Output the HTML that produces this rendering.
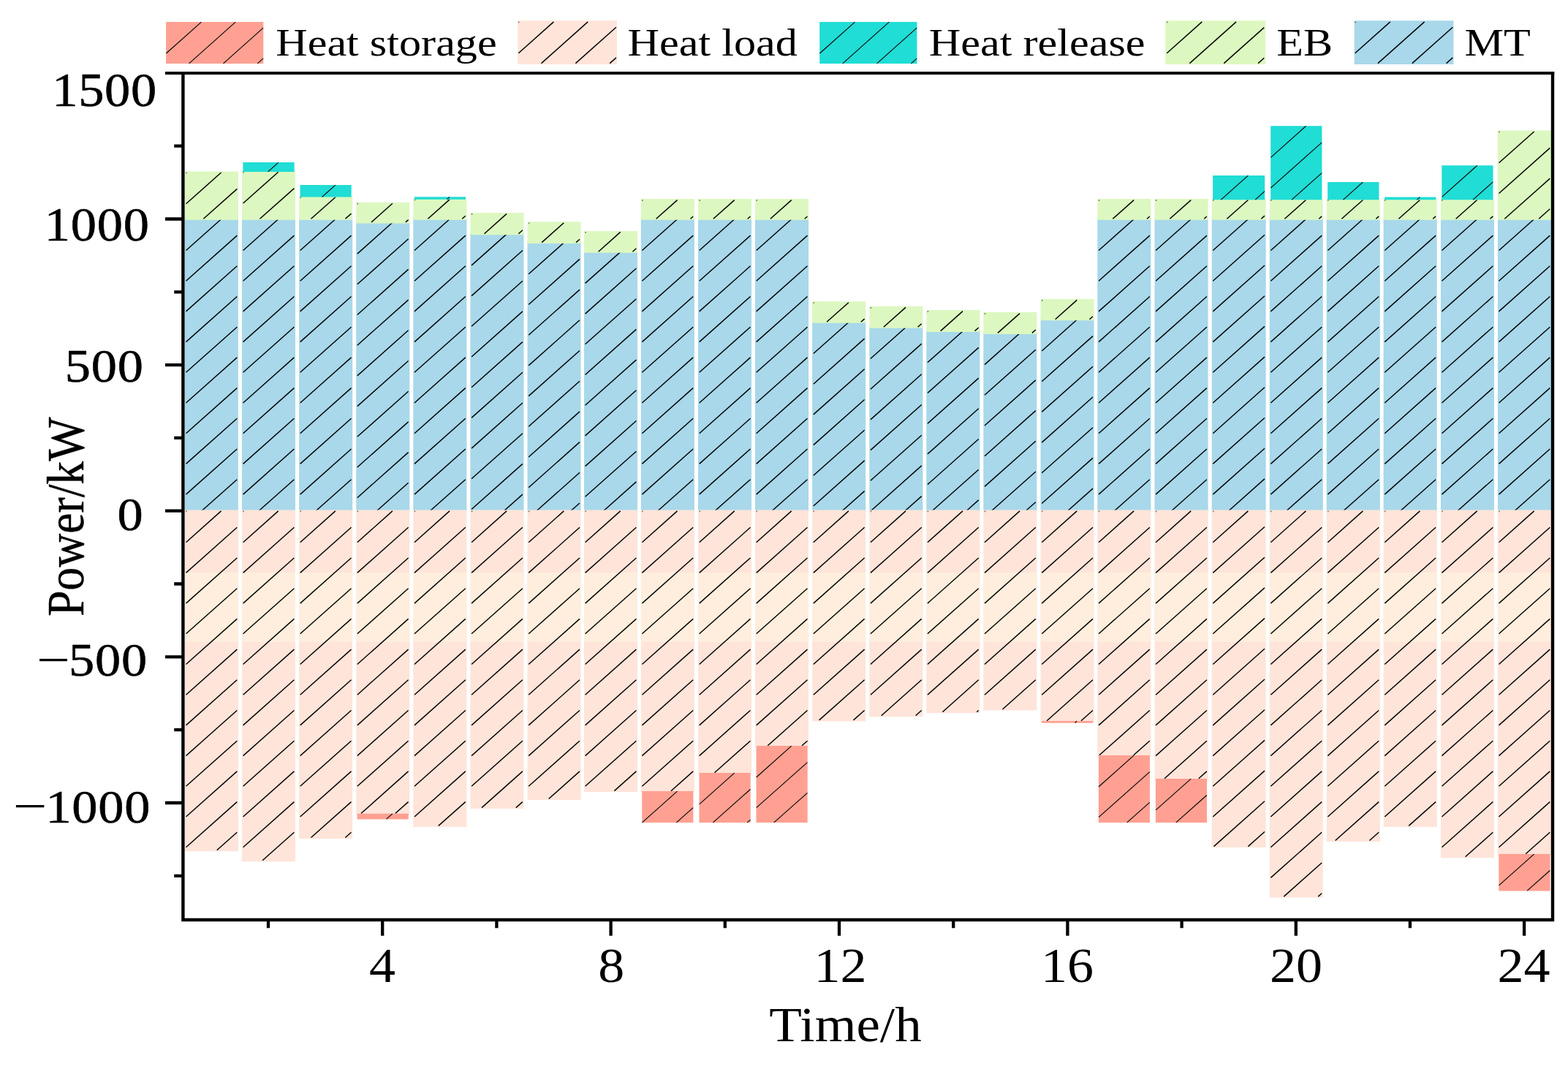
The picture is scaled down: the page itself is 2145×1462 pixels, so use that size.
<!DOCTYPE html>
<html lang="en">
<head>
<meta charset="utf-8">
<title>Power/kW vs Time/h</title>
<style>
html,body{margin:0;padding:0;background:#fff}
body{width:2145px;height:1462px;overflow:hidden}
svg{display:block}
text{white-space:pre}
</style>
</head>
<body>
<svg width="2145" height="1462" viewBox="0 0 2145 1462">
<rect width="2145" height="1462" fill="#fff"/>
<path fill="#A8D8EA" d="M252.8 298.2h73.1v401.8h-73.1zM330.9 298.2h73.1v401.8h-73.1zM409.1 298.2h73.1v401.8h-73.1zM487.2 302.8h73.1v397.2h-73.1zM565.3 298.2h73.1v401.8h-73.1zM643.4 318.6h73.1v381.4h-73.1zM721.5 330.5h73.1v369.5h-73.1zM799 343.1h73.1v356.9h-73.1zM876.8 298.2h73.1v401.8h-73.1zM955 298.2h73.1v401.8h-73.1zM1033 298.2h73.1v401.8h-73.1zM1111.1 439.2h73.1v260.8h-73.1zM1189.3 446.2h73.1v253.8h-73.1zM1267.3 451.5h73.1v248.5h-73.1zM1345.3 454.3h73.1v245.7h-73.1zM1423.5 435.7h73.1v264.3h-73.1zM1501.3 298.2h73.1v401.8h-73.1zM1579.5 298.2h73.1v401.8h-73.1zM1657.7 298.2h74v401.8h-74zM1736.7 298.2h73.1v401.8h-73.1zM1814.7 298.2h73.1v401.8h-73.1zM1892.6 298.2h73.1v401.8h-73.1zM1970.9 298.2h73.1v401.8h-73.1zM2048.9 298.2h73.1v401.8h-73.1zM1852.6 28.3h135.8v59.8h-135.8z"/>
<path fill="none" stroke="#000" stroke-width="1.45" d="M254.5 342.5L302.5 299.7M254.5 384.2L324.3 322.1M254.5 425.9L324.3 363.8M254.5 467.6L324.3 405.5M254.5 509.3L324.3 447.2M254.5 551L324.3 488.9M254.5 592.7L324.3 530.6M254.5 634.4L324.3 572.3M254.5 676.1L324.3 614M276.1 698.5L324.3 655.7M332.6 342.5L380.7 299.7M332.6 384.2L402.4 322.1M332.6 425.9L402.4 363.8M332.6 467.6L402.4 405.5M332.6 509.3L402.4 447.2M332.6 551L402.4 488.9M332.6 592.7L402.4 530.6M332.6 634.4L402.4 572.3M332.6 676.1L402.4 614M354.3 698.5L402.4 655.7M410.7 342.5L458.8 299.7M410.7 384.2L480.5 322.1M410.7 425.9L480.5 363.8M410.7 467.6L480.5 405.5M410.7 509.3L480.5 447.2M410.7 551L480.5 488.9M410.7 592.7L480.5 530.6M410.7 634.4L480.5 572.3M410.7 676.1L480.5 614M432.4 698.5L480.5 655.7M488.8 347.1L536.9 304.3M488.8 388.8L558.6 326.7M488.8 430.5L558.6 368.4M488.8 472.2L558.6 410.1M488.8 513.9L558.6 451.8M488.8 555.6L558.6 493.5M488.8 597.3L558.6 535.2M488.8 639L558.6 576.9M488.8 680.7L558.6 618.6M515.7 698.5L558.6 660.3M567 342.5L615 299.7M567 384.2L636.8 322.1M567 425.9L636.8 363.8M567 467.6L636.8 405.5M567 509.3L636.8 447.2M567 551L636.8 488.9M567 592.7L636.8 530.6M567 634.4L636.8 572.3M567 676.1L636.8 614M588.6 698.5L636.8 655.7M645.1 362.9L693.1 320.1M645.1 404.6L714.9 342.5M645.1 446.3L714.9 384.2M645.1 488L714.9 425.9M645.1 529.7L714.9 467.6M645.1 571.4L714.9 509.3M645.1 613.1L714.9 551M645.1 654.8L714.9 592.7M645.1 696.5L714.9 634.4M689.7 698.5L714.9 676.1M723.2 374.8L771.3 332M723.2 416.5L793 354.4M723.2 458.2L793 396.1M723.2 499.9L793 437.8M723.2 541.6L793 479.5M723.2 583.3L793 521.2M723.2 625L793 562.9M723.2 666.7L793 604.6M734.3 698.5L793 646.3M781.1 698.5L793 688M800.6 387.4L848.7 344.6M800.6 429.1L870.4 367M800.6 470.8L870.4 408.7M800.6 512.5L870.4 450.4M800.6 554.2L870.4 492.1M800.6 595.9L870.4 533.8M800.6 637.6L870.4 575.5M800.6 679.3L870.4 617.2M825.9 698.5L870.4 658.9M878.4 342.5L926.5 299.7M878.4 384.2L948.2 322.1M878.4 425.9L948.2 363.8M878.4 467.6L948.2 405.5M878.4 509.3L948.2 447.2M878.4 551L948.2 488.9M878.4 592.7L948.2 530.6M878.4 634.4L948.2 572.3M878.4 676.1L948.2 614M900.1 698.5L948.2 655.7M956.7 342.5L1004.7 299.7M956.7 384.2L1026.5 322.1M956.7 425.9L1026.5 363.8M956.7 467.6L1026.5 405.5M956.7 509.3L1026.5 447.2M956.7 551L1026.5 488.9M956.7 592.7L1026.5 530.6M956.7 634.4L1026.5 572.3M956.7 676.1L1026.5 614M978.3 698.5L1026.5 655.7M1034.7 342.5L1082.7 299.7M1034.7 384.2L1104.5 322.1M1034.7 425.9L1104.5 363.8M1034.7 467.6L1104.5 405.5M1034.7 509.3L1104.5 447.2M1034.7 551L1104.5 488.9M1034.7 592.7L1104.5 530.6M1034.7 634.4L1104.5 572.3M1034.7 676.1L1104.5 614M1056.3 698.5L1104.5 655.7M1112.8 483.5L1160.9 440.7M1112.8 525.2L1182.6 463.1M1112.8 566.9L1182.6 504.8M1112.8 608.6L1182.6 546.5M1112.8 650.3L1182.6 588.2M1112.8 692L1182.6 629.9M1152.3 698.5L1182.6 671.6M1190.9 490.5L1239 447.7M1190.9 532.2L1260.7 470.1M1190.9 573.9L1260.7 511.8M1190.9 615.6L1260.7 553.5M1190.9 657.3L1260.7 595.2M1191.5 698.5L1260.7 636.9M1238.3 698.5L1260.7 678.6M1268.9 495.8L1317 453M1268.9 537.5L1338.7 475.4M1268.9 579.2L1338.7 517.1M1268.9 620.9L1338.7 558.8M1268.9 662.6L1338.7 600.5M1275.4 698.5L1338.7 642.2M1322.3 698.5L1338.7 683.9M1347 498.6L1395 455.8M1347 540.3L1416.8 478.2M1347 582L1416.8 519.9M1347 623.7L1416.8 561.6M1347 665.4L1416.8 603.3M1356.6 698.5L1416.8 645M1403.4 698.5L1416.8 686.7M1425.2 480L1473.2 437.2M1425.2 521.7L1495 459.6M1425.2 563.4L1495 501.3M1425.2 605.1L1495 543M1425.2 646.8L1495 584.7M1425.2 688.5L1495 626.4M1460.8 698.5L1495 668.1M1503 342.5L1551.1 299.7M1503 384.2L1572.8 322.1M1503 425.9L1572.8 363.8M1503 467.6L1572.8 405.5M1503 509.3L1572.8 447.2M1503 551L1572.8 488.9M1503 592.7L1572.8 530.6M1503 634.4L1572.8 572.3M1503 676.1L1572.8 614M1524.7 698.5L1572.8 655.7M1581.1 342.5L1629.2 299.7M1581.1 384.2L1650.9 322.1M1581.1 425.9L1650.9 363.8M1581.1 467.6L1650.9 405.5M1581.1 509.3L1650.9 447.2M1581.1 551L1650.9 488.9M1581.1 592.7L1650.9 530.6M1581.1 634.4L1650.9 572.3M1581.1 676.1L1650.9 614M1602.8 698.5L1650.9 655.7M1659.3 342.5L1707.4 299.7M1659.3 384.2L1730 321.3M1659.3 425.9L1730 363M1659.3 467.6L1730 404.7M1659.3 509.3L1730 446.4M1659.3 551L1730 488.1M1659.3 592.7L1730 529.8M1659.3 634.4L1730 571.5M1659.3 676.1L1730 613.2M1681 698.5L1730 654.9M1738.4 342.5L1786.4 299.7M1738.4 384.2L1808.2 322.1M1738.4 425.9L1808.2 363.8M1738.4 467.6L1808.2 405.5M1738.4 509.3L1808.2 447.2M1738.4 551L1808.2 488.9M1738.4 592.7L1808.2 530.6M1738.4 634.4L1808.2 572.3M1738.4 676.1L1808.2 614M1760 698.5L1808.2 655.7M1816.4 342.5L1864.4 299.7M1816.4 384.2L1886.2 322.1M1816.4 425.9L1886.2 363.8M1816.4 467.6L1886.2 405.5M1816.4 509.3L1886.2 447.2M1816.4 551L1886.2 488.9M1816.4 592.7L1886.2 530.6M1816.4 634.4L1886.2 572.3M1816.4 676.1L1886.2 614M1838 698.5L1886.2 655.7M1894.3 342.5L1942.4 299.7M1894.3 384.2L1964.1 322.1M1894.3 425.9L1964.1 363.8M1894.3 467.6L1964.1 405.5M1894.3 509.3L1964.1 447.2M1894.3 551L1964.1 488.9M1894.3 592.7L1964.1 530.6M1894.3 634.4L1964.1 572.3M1894.3 676.1L1964.1 614M1916 698.5L1964.1 655.7M1972.5 342.5L2020.6 299.7M1972.5 384.2L2042.3 322.1M1972.5 425.9L2042.3 363.8M1972.5 467.6L2042.3 405.5M1972.5 509.3L2042.3 447.2M1972.5 551L2042.3 488.9M1972.5 592.7L2042.3 530.6M1972.5 634.4L2042.3 572.3M1972.5 676.1L2042.3 614M1994.2 698.5L2042.3 655.7M2050.5 342.5L2098.6 299.7M2050.5 384.2L2120.3 322.1M2050.5 425.9L2120.3 363.8M2050.5 467.6L2120.3 405.5M2050.5 509.3L2120.3 447.2M2050.5 551L2120.3 488.9M2050.5 592.7L2120.3 530.6M2050.5 634.4L2120.3 572.3M2050.5 676.1L2120.3 614M2072.2 698.5L2120.3 655.7M1853.7 72.7L1901.8 29.9M1884.9 86.6L1948.6 29.9M1931.8 86.6L1987.3 37.2M1978.6 86.6L1987.3 78.9"/>
<path fill="#3a2a20" fill-opacity=".8" d="M1853.6 29.5h1.2v1.7h-1.2z"/>
<path fill="#DCF8C0" d="M252.8 234.5h73.1v66.3h-73.1zM330.9 233.7h73.1v67.1h-73.1zM409.1 268.2h73.1v32.6h-73.1zM487.2 276.7h73.1v28.7h-73.1zM565.3 271.4h73.1v29.4h-73.1zM643.4 290.9h73.1v30.3h-73.1zM721.5 303.3h73.1v29.8h-73.1zM799 315.9h73.1v29.8h-73.1zM876.8 272.1h73.1v28.7h-73.1zM955 272.1h73.1v28.7h-73.1zM1033 272.1h73.1v28.7h-73.1zM1111.1 412.2h73.1v29.6h-73.1zM1189.3 418.9h73.1v29.9h-73.1zM1267.3 424.1h73.1v30h-73.1zM1345.3 427.1h73.1v29.8h-73.1zM1423.5 408.9h73.1v29.4h-73.1zM1501.3 272.1h73.1v28.7h-73.1zM1579.5 272.1h73.1v28.7h-73.1zM1657.7 272h74v28.8h-74zM1736.7 272h73.1v28.8h-73.1zM1814.7 272h73.1v28.8h-73.1zM1892.6 272h73.1v28.8h-73.1zM1970.9 272h73.1v28.8h-73.1zM2048.9 178.5h73.1v122.3h-73.1zM1594.2 28.3h137.1v59.8h-137.1z"/>
<path fill="none" stroke="#000" stroke-width="1.45" d="M254.5 278.8L302.5 236M278.3 299.3L324.3 258.4M332.6 278L380.7 235.2M355.5 299.3L402.4 257.6M425.5 299.3L458.8 269.7M472.4 299.3L480.5 292.1M508 303.9L536.9 278.2M554.9 303.9L558.6 300.6M585.4 299.3L615 272.9M632.2 299.3L636.8 295.3M662.5 319.7L693.1 292.4M709.3 319.7L714.9 314.8M741.1 331.6L771.3 304.8M788 331.6L793 327.2M818.6 344.2L848.7 317.4M865.4 344.2L870.4 339.8M897.6 299.3L926.5 273.6M944.5 299.3L948.2 296M975.8 299.3L1004.7 273.6M1022.7 299.3L1026.5 296M1053.9 299.3L1082.7 273.6M1100.7 299.3L1104.5 296M1131 440.3L1160.9 413.7M1177.8 440.3L1182.6 436.1M1208.8 447.3L1239 420.4M1255.6 447.3L1260.7 442.8M1286.7 452.6L1317 425.6M1333.5 452.6L1338.7 448M1364.9 455.4L1395 428.6M1411.8 455.4L1416.8 451M1443.6 436.8L1473.2 410.4M1490.4 436.8L1495 432.8M1522.2 299.3L1551.1 273.6M1569 299.3L1572.8 296M1600.3 299.3L1629.2 273.6M1647.2 299.3L1650.9 296M1678.4 299.3L1707.4 273.5M1725.3 299.3L1730 295.1M1757.4 299.3L1786.4 273.5M1804.3 299.3L1808.2 295.9M1835.4 299.3L1864.4 273.5M1882.3 299.3L1886.2 295.9M1913.4 299.3L1942.4 273.5M1960.2 299.3L1964.1 295.9M1991.6 299.3L2020.6 273.5M2038.4 299.3L2042.3 295.9M2050.5 222.8L2098.6 180M2050.5 264.5L2120.3 202.4M2058.3 299.3L2120.3 244.1M2105.1 299.3L2120.3 285.8M1596.2 72.7L1644.3 29.9M1627.4 86.6L1691.1 29.9M1674.3 86.6L1729.3 37.6M1721.1 86.6L1729.3 79.3"/>
<path fill="#3a2a20" fill-opacity=".8" d="M254.4 235.6h1.2v1.7h-1.2zM332.5 234.8h1.2v1.7h-1.2zM410.6 269.3h1.2v1.7h-1.2zM488.7 277.8h1.2v1.7h-1.2zM566.9 272.5h1.2v1.7h-1.2zM645 292h1.2v1.7h-1.2zM723.1 304.4h1.2v1.7h-1.2zM800.5 317h1.2v1.7h-1.2zM878.3 273.2h1.2v1.7h-1.2zM956.6 273.2h1.2v1.7h-1.2zM1034.6 273.2h1.2v1.7h-1.2zM1112.7 413.3h1.2v1.7h-1.2zM1190.8 420h1.2v1.7h-1.2zM1268.8 425.2h1.2v1.7h-1.2zM1346.9 428.2h1.2v1.7h-1.2zM1425.1 410h1.2v1.7h-1.2zM1502.9 273.2h1.2v1.7h-1.2zM1581 273.2h1.2v1.7h-1.2zM1659.2 273.1h1.2v1.7h-1.2zM1738.2 273.1h1.2v1.7h-1.2zM1816.3 273.1h1.2v1.7h-1.2zM1894.2 273.1h1.2v1.7h-1.2zM1972.4 273.1h1.2v1.7h-1.2zM2050.4 179.6h1.2v1.7h-1.2zM1596.1 29.5h1.2v1.7h-1.2z"/>
<path fill="#20DDD5" d="M332.4 222.1h70.2v12.9h-70.2zM410.5 252.9h70.2v16.6h-70.2zM566.8 269.2h70.2v3.5h-70.2zM1659.1 239.9h71.1v33.4h-71.1zM1738.2 172.3h70.2v101h-70.2zM1816.2 248.9h70.2v24.4h-70.2zM1894.1 269.4h70.2v3.9h-70.2zM1972.3 226.3h70.2v47h-70.2zM1121.2 30h133.2v57h-133.2z"/>
<path fill="none" stroke="#000" stroke-width="1.1" d="M366.6 234.8L380.7 222.3M440.6 269.3L458.8 253.1M611.5 272.5L615 269.4M1670.3 273.1L1707.4 240.1M1717.2 273.1L1730 261.7M1738.4 215.3L1786.4 172.5M1738.4 257L1808.2 194.9M1767.1 273.1L1808.2 236.6M1837.5 273.1L1864.4 249.1M1938.4 273.1L1942.4 269.6M1972.5 269.3L2020.6 226.5M2015.1 273.1L2042.3 248.9M1121.4 73L1169.5 30.2M1152.7 86.8L1216.3 30.2M1199.6 86.8L1254.2 38.2M1246.4 86.8L1254.2 79.9"/>
<path fill="#FFE4D9" d="M252.8 697.4h73.1v466.9h-73.1zM330.9 697.4h73.1v480.9h-73.1zM409.1 697.4h73.1v449.6h-73.1zM487.2 697.4h73.1v416.6h-73.1zM565.3 697.4h73.1v433.5h-73.1zM643.4 697.4h73.1v408.7h-73.1zM721.5 697.4h73.1v396.6h-73.1zM799 697.4h73.1v385.7h-73.1zM876.8 697.4h73.1v385.9h-73.1zM955 697.4h73.1v360.8h-73.1zM1033 697.4h73.1v323.9h-73.1zM1111.1 697.4h73.1v289h-73.1zM1189.3 697.4h73.1v282.8h-73.1zM1267.3 697.4h73.1v277.8h-73.1zM1345.3 697.4h73.1v274.1h-73.1zM1423.5 697.4h73.1v289.8h-73.1zM1501.3 697.4h73.1v336.9h-73.1zM1579.5 697.4h73.1v368.8h-73.1zM1657.7 697.4h74v461.7h-74zM1736.7 697.4h73.1v530.2h-73.1zM1814.7 697.4h73.1v453.6h-73.1zM1892.6 697.4h73.1v433.5h-73.1zM1970.9 697.4h73.1v475.9h-73.1zM2048.9 697.4h73.1v471.8h-73.1zM708.2 28.3h135.8v59.8h-135.8z"/>
<path fill="#FFEEDD" d="M252.8 782.9h73.1v95.1h-73.1zM330.9 782.9h73.1v95.1h-73.1zM409.1 782.9h73.1v95.1h-73.1zM487.2 782.9h73.1v95.1h-73.1zM565.3 782.9h73.1v95.1h-73.1zM643.4 782.9h73.1v95.1h-73.1zM721.5 782.9h73.1v95.1h-73.1zM799 782.9h73.1v95.1h-73.1zM876.8 782.9h73.1v95.1h-73.1zM955 782.9h73.1v95.1h-73.1zM1033 782.9h73.1v95.1h-73.1zM1111.1 782.9h73.1v95.1h-73.1zM1189.3 782.9h73.1v95.1h-73.1zM1267.3 782.9h73.1v95.1h-73.1zM1345.3 782.9h73.1v95.1h-73.1zM1423.5 782.9h73.1v95.1h-73.1zM1501.3 782.9h73.1v95.1h-73.1zM1579.5 782.9h73.1v95.1h-73.1zM1657.7 782.9h74v95.1h-74zM1736.7 782.9h73.1v95.1h-73.1zM1814.7 782.9h73.1v95.1h-73.1zM1892.6 782.9h73.1v95.1h-73.1zM1970.9 782.9h73.1v95.1h-73.1zM2048.9 782.9h73.1v95.1h-73.1z"/>
<path fill="none" stroke="#000" stroke-width="1.45" d="M254.5 741.7L302.5 698.9M254.5 783.4L324.3 721.3M254.5 825.1L324.3 763M254.5 866.8L324.3 804.7M254.5 908.5L324.3 846.4M254.5 950.2L324.3 888.1M254.5 991.9L324.3 929.8M254.5 1033.6L324.3 971.5M254.5 1075.3L324.3 1013.2M254.5 1117L324.3 1054.9M254.5 1158.7L324.3 1096.6M296.7 1162.8L324.3 1138.3M332.6 741.7L380.7 698.9M332.6 783.4L402.4 721.3M332.6 825.1L402.4 763M332.6 866.8L402.4 804.7M332.6 908.5L402.4 846.4M332.6 950.2L402.4 888.1M332.6 991.9L402.4 929.8M332.6 1033.6L402.4 971.5M332.6 1075.3L402.4 1013.2M332.6 1117L402.4 1054.9M332.6 1158.7L402.4 1096.6M359.1 1176.8L402.4 1138.3M410.7 741.7L458.8 698.9M410.7 783.4L480.5 721.3M410.7 825.1L480.5 763M410.7 866.8L480.5 804.7M410.7 908.5L480.5 846.4M410.7 950.2L480.5 888.1M410.7 991.9L480.5 929.8M410.7 1033.6L480.5 971.5M410.7 1075.3L480.5 1013.2M410.7 1117L480.5 1054.9M425.5 1145.5L480.5 1096.6M472.4 1145.5L480.5 1138.3M488.8 741.7L536.9 698.9M488.8 783.4L558.6 721.3M488.8 825.1L558.6 763M488.8 866.8L558.6 804.7M488.8 908.5L558.6 846.4M488.8 950.2L558.6 888.1M488.8 991.9L558.6 929.8M488.8 1033.6L558.6 971.5M488.8 1075.3L558.6 1013.2M493.9 1112.5L558.6 1054.9M540.7 1112.5L558.6 1096.6M567 741.7L615 698.9M567 783.4L636.8 721.3M567 825.1L636.8 763M567 866.8L636.8 804.7M567 908.5L636.8 846.4M567 950.2L636.8 888.1M567 991.9L636.8 929.8M567 1033.6L636.8 971.5M567 1075.3L636.8 1013.2M567 1117L636.8 1054.9M599.8 1129.4L636.8 1096.6M645.1 741.7L693.1 698.9M645.1 783.4L714.9 721.3M645.1 825.1L714.9 763M645.1 866.8L714.9 804.7M645.1 908.5L714.9 846.4M645.1 950.2L714.9 888.1M645.1 991.9L714.9 929.8M645.1 1033.6L714.9 971.5M645.1 1075.3L714.9 1013.2M659 1104.6L714.9 1054.9M705.8 1104.6L714.9 1096.6M723.2 741.7L771.3 698.9M723.2 783.4L793 721.3M723.2 825.1L793 763M723.2 866.8L793 804.7M723.2 908.5L793 846.4M723.2 950.2L793 888.1M723.2 991.9L793 929.8M723.2 1033.6L793 971.5M723.2 1075.3L793 1013.2M750.7 1092.5L793 1054.9M800.6 741.7L848.7 698.9M800.6 783.4L870.4 721.3M800.6 825.1L870.4 763M800.6 866.8L870.4 804.7M800.6 908.5L870.4 846.4M800.6 950.2L870.4 888.1M800.6 991.9L870.4 929.8M800.6 1033.6L870.4 971.5M800.6 1075.3L870.4 1013.2M840.4 1081.6L870.4 1054.9M878.4 741.7L926.5 698.9M878.4 783.4L948.2 721.3M878.4 825.1L948.2 763M878.4 866.8L948.2 804.7M878.4 908.5L948.2 846.4M878.4 950.2L948.2 888.1M878.4 991.9L948.2 929.8M878.4 1033.6L948.2 971.5M878.4 1075.3L948.2 1013.2M918 1081.8L948.2 1054.9M956.7 741.7L1004.7 698.9M956.7 783.4L1026.5 721.3M956.7 825.1L1026.5 763M956.7 866.8L1026.5 804.7M956.7 908.5L1026.5 846.4M956.7 950.2L1026.5 888.1M956.7 991.9L1026.5 929.8M956.7 1033.6L1026.5 971.5M977.5 1056.7L1026.5 1013.2M1034.7 741.7L1082.7 698.9M1034.7 783.4L1104.5 721.3M1034.7 825.1L1104.5 763M1034.7 866.8L1104.5 804.7M1034.7 908.5L1104.5 846.4M1034.7 950.2L1104.5 888.1M1034.7 991.9L1104.5 929.8M1050.2 1019.8L1104.5 971.5M1097 1019.8L1104.5 1013.2M1112.8 741.7L1160.9 698.9M1112.8 783.4L1182.6 721.3M1112.8 825.1L1182.6 763M1112.8 866.8L1182.6 804.7M1112.8 908.5L1182.6 846.4M1112.8 950.2L1182.6 888.1M1120.6 984.9L1182.6 929.8M1167.5 984.9L1182.6 971.5M1190.9 741.7L1239 698.9M1190.9 783.4L1260.7 721.3M1190.9 825.1L1260.7 763M1190.9 866.8L1260.7 804.7M1190.9 908.5L1260.7 846.4M1190.9 950.2L1260.7 888.1M1205.7 978.7L1260.7 929.8M1252.6 978.7L1260.7 971.5M1268.9 741.7L1317 698.9M1268.9 783.4L1338.7 721.3M1268.9 825.1L1338.7 763M1268.9 866.8L1338.7 804.7M1268.9 908.5L1338.7 846.4M1268.9 950.2L1338.7 888.1M1289.4 973.7L1338.7 929.8M1336.2 973.7L1338.7 971.5M1347 741.7L1395 698.9M1347 783.4L1416.8 721.3M1347 825.1L1416.8 763M1347 866.8L1416.8 804.7M1347 908.5L1416.8 846.4M1347 950.2L1416.8 888.1M1371.5 970L1416.8 929.8M1425.2 741.7L1473.2 698.9M1425.2 783.4L1495 721.3M1425.2 825.1L1495 763M1425.2 866.8L1495 804.7M1425.2 908.5L1495 846.4M1425.2 950.2L1495 888.1M1432.1 985.7L1495 929.8M1479 985.7L1495 971.5M1503 741.7L1551.1 698.9M1503 783.4L1572.8 721.3M1503 825.1L1572.8 763M1503 866.8L1572.8 804.7M1503 908.5L1572.8 846.4M1503 950.2L1572.8 888.1M1503 991.9L1572.8 929.8M1503.9 1032.8L1572.8 971.5M1550.7 1032.8L1572.8 1013.2M1581.1 741.7L1629.2 698.9M1581.1 783.4L1650.9 721.3M1581.1 825.1L1650.9 763M1581.1 866.8L1650.9 804.7M1581.1 908.5L1650.9 846.4M1581.1 950.2L1650.9 888.1M1581.1 991.9L1650.9 929.8M1581.1 1033.6L1650.9 971.5M1593 1064.7L1650.9 1013.2M1639.8 1064.7L1650.9 1054.9M1659.3 741.7L1707.4 698.9M1659.3 783.4L1730 720.5M1659.3 825.1L1730 762.2M1659.3 866.8L1730 803.9M1659.3 908.5L1730 845.6M1659.3 950.2L1730 887.3M1659.3 991.9L1730 929M1659.3 1033.6L1730 970.7M1659.3 1075.3L1730 1012.4M1659.3 1117L1730 1054.1M1660.5 1157.6L1730 1095.8M1707.4 1157.6L1730 1137.5M1738.4 741.7L1786.4 698.9M1738.4 783.4L1808.2 721.3M1738.4 825.1L1808.2 763M1738.4 866.8L1808.2 804.7M1738.4 908.5L1808.2 846.4M1738.4 950.2L1808.2 888.1M1738.4 991.9L1808.2 929.8M1738.4 1033.6L1808.2 971.5M1738.4 1075.3L1808.2 1013.2M1738.4 1117L1808.2 1054.9M1738.4 1158.7L1808.2 1096.6M1738.4 1200.4L1808.2 1138.3M1756.3 1226.1L1808.2 1180M1803.2 1226.1L1808.2 1221.7M1816.4 741.7L1864.4 698.9M1816.4 783.4L1886.2 721.3M1816.4 825.1L1886.2 763M1816.4 866.8L1886.2 804.7M1816.4 908.5L1886.2 846.4M1816.4 950.2L1886.2 888.1M1816.4 991.9L1886.2 929.8M1816.4 1033.6L1886.2 971.5M1816.4 1075.3L1886.2 1013.2M1816.4 1117L1886.2 1054.9M1826.7 1149.5L1886.2 1096.6M1873.5 1149.5L1886.2 1138.3M1894.3 741.7L1942.4 698.9M1894.3 783.4L1964.1 721.3M1894.3 825.1L1964.1 763M1894.3 866.8L1964.1 804.7M1894.3 908.5L1964.1 846.4M1894.3 950.2L1964.1 888.1M1894.3 991.9L1964.1 929.8M1894.3 1033.6L1964.1 971.5M1894.3 1075.3L1964.1 1013.2M1894.3 1117L1964.1 1054.9M1927.2 1129.4L1964.1 1096.6M1972.5 741.7L2020.6 698.9M1972.5 783.4L2042.3 721.3M1972.5 825.1L2042.3 763M1972.5 866.8L2042.3 804.7M1972.5 908.5L2042.3 846.4M1972.5 950.2L2042.3 888.1M1972.5 991.9L2042.3 929.8M1972.5 1033.6L2042.3 971.5M1972.5 1075.3L2042.3 1013.2M1972.5 1117L2042.3 1054.9M1972.5 1158.7L2042.3 1096.6M2004.6 1171.8L2042.3 1138.3M2050.5 741.7L2098.6 698.9M2050.5 783.4L2120.3 721.3M2050.5 825.1L2120.3 763M2050.5 866.8L2120.3 804.7M2050.5 908.5L2120.3 846.4M2050.5 950.2L2120.3 888.1M2050.5 991.9L2120.3 929.8M2050.5 1033.6L2120.3 971.5M2050.5 1075.3L2120.3 1013.2M2050.5 1117L2120.3 1054.9M2050.5 1158.7L2120.3 1096.6M2087.2 1167.7L2120.3 1138.3M709.3 72.7L757.4 29.9M740.5 86.6L804.2 29.9M787.4 86.6L842.9 37.2M834.2 86.6L842.9 78.9"/>
<path fill="#3a2a20" fill-opacity=".8" d="M254.4 698.5h1.2v1.7h-1.2zM332.5 698.5h1.2v1.7h-1.2zM410.6 698.5h1.2v1.7h-1.2zM488.7 698.5h1.2v1.7h-1.2zM566.9 698.5h1.2v1.7h-1.2zM645 698.5h1.2v1.7h-1.2zM723.1 698.5h1.2v1.7h-1.2zM800.5 698.5h1.2v1.7h-1.2zM878.3 698.5h1.2v1.7h-1.2zM956.6 698.5h1.2v1.7h-1.2zM1034.6 698.5h1.2v1.7h-1.2zM1112.7 698.5h1.2v1.7h-1.2zM1190.8 698.5h1.2v1.7h-1.2zM1268.8 698.5h1.2v1.7h-1.2zM1346.9 698.5h1.2v1.7h-1.2zM1425.1 698.5h1.2v1.7h-1.2zM1502.9 698.5h1.2v1.7h-1.2zM1581 698.5h1.2v1.7h-1.2zM1659.2 698.5h1.2v1.7h-1.2zM1738.2 698.5h1.2v1.7h-1.2zM1816.3 698.5h1.2v1.7h-1.2zM1894.2 698.5h1.2v1.7h-1.2zM1972.4 698.5h1.2v1.7h-1.2zM2050.4 698.5h1.2v1.7h-1.2zM709.2 29.5h1.2v1.7h-1.2z"/>
<path fill="#FFA092" d="M488.6 1112.7h70.2v7.7h-70.2zM878.2 1082h70.2v43.1h-70.2zM956.5 1056.9h70.2v68.2h-70.2zM1034.5 1020h70.2v105.1h-70.2zM1425 985.9h70.2v2.8h-70.2zM1502.8 1033h70.2v92.1h-70.2zM1580.9 1064.9h70.2v60.2h-70.2zM2050.3 1167.9h70.2v50.5h-70.2zM227.1 30h133.2v57h-133.2z"/>
<path fill="none" stroke="#000" stroke-width="1.1" d="M528.7 1120.2L536.9 1112.9M878.5 1124.9L926.5 1082.2M925.4 1124.9L948.2 1104.6M956.7 1099.9L1004.7 1057.1M975.4 1124.9L1026.5 1079.5M1022.2 1124.9L1026.5 1121.2M1034.7 1063L1082.7 1020.2M1034.7 1104.7L1104.5 1042.6M1058.8 1124.9L1104.5 1084.3M1470.5 988.5L1473.2 986.1M1503 1076L1551.1 1033.2M1503 1117.7L1572.8 1055.6M1541.7 1124.9L1572.8 1097.3M1581.1 1107.9L1629.2 1065.1M1608.8 1124.9L1650.9 1087.5M2050.5 1210.9L2098.6 1168.1M2089.2 1218.2L2120.3 1190.5M227.3 73L275.4 30.2M258.6 86.8L322.2 30.2M305.5 86.8L360.1 38.2M352.3 86.8L360.1 79.9"/>
<path fill="none" stroke="#000" stroke-width="3.9" d="M226 99.95H2126.2"/>
<path fill="none" stroke="#000" stroke-width="4.4" d="M2124 98V1260.2M248.2 1258H2126.2M250.4 98V1258"/>
<path fill="none" stroke="#000" stroke-width="4.3" d="M238.2 1197.8H250.4M226 1098H250.4M238.2 998.1H250.4M226 898.3H250.4M238.2 798.5H250.4M226 698.7H250.4M238.2 598.9H250.4M226 499.1H250.4M238.2 399.3H250.4M226 299.5H250.4M238.2 199.6H250.4M367 1258V1269.2M523.2 1258V1279.8M679.4 1258V1269.2M835.6 1258V1279.8M991.8 1258V1269.2M1148 1258V1279.8M1304.2 1258V1269.2M1460.4 1258V1279.8M1616.6 1258V1269.2M1772.8 1258V1279.8M1928.9 1258V1269.2M2085.1 1258V1279.8"/>
<g font-family="'Liberation Serif','Times New Roman',Times,serif" fill="#000">
<text id="y1500" transform="translate(71.18 144.69) scale(1.0751 1)" font-size="65.5" text-anchor="start" stroke="#000" stroke-width="0.6" letter-spacing="0.71">1500</text>
<text id="y1000" transform="translate(60.77 328.98) scale(1.0634 1)" font-size="66.24" text-anchor="start" stroke="#000" stroke-width="0.6" letter-spacing="0.71">1000</text>
<text id="y500" transform="translate(88.82 521.93) scale(1.112 1)" font-size="63.28" text-anchor="start" stroke="#000" stroke-width="0.6" letter-spacing="0.71">500</text>
<text id="y0" transform="translate(160.61 725.4) scale(1.0995 1)" font-size="64.02" text-anchor="start" stroke="#000" stroke-width="0.6" letter-spacing="0.7">0</text>
<text id="ym500" transform="translate(50.04 924.2) scale(1.0995 1)" font-size="64.02" text-anchor="start"><tspan textLength="41.83" lengthAdjust="spacingAndGlyphs" dy="-0.6">−</tspan><tspan x="40.0" dy="0.6" stroke="#000" stroke-width="0.6" letter-spacing="0.7">500</tspan></text>
<text id="ym1000" transform="translate(17.68 1124.7) scale(1.097 1)" font-size="64.17" text-anchor="start"><tspan textLength="42.53" lengthAdjust="spacingAndGlyphs" dy="-0.6">−</tspan><tspan x="40.75" dy="0.6" stroke="#000" stroke-width="0.6" letter-spacing="0.7">1000</tspan></text>
<text id="x4" transform="translate(523.0 1343.1) scale(1.067 1)" font-size="67.5" text-anchor="middle">4</text>
<text id="x8" transform="translate(836.3 1343.1) scale(1.067 1)" font-size="67.5" text-anchor="middle">8</text>
<text id="x12" transform="translate(1149.5 1343.1) scale(1.067 1)" font-size="67.5" text-anchor="middle">12</text>
<text id="x16" transform="translate(1460.0 1343.1) scale(1.067 1)" font-size="67.5" text-anchor="middle">16</text>
<text id="x20" transform="translate(1773.0 1343.1) scale(1.067 1)" font-size="67.5" text-anchor="middle">20</text>
<text id="x24" transform="translate(2084.5 1343.1) scale(1.067 1)" font-size="67.5" text-anchor="middle">24</text>
<text id="xt" transform="translate(1156.5 1424.4) scale(1.074 1)" font-size="68" text-anchor="middle">Time/h</text>
<text id="yt" transform="translate(113.5 706.9) rotate(-90) scale(0.8847 1)" font-size="72" text-anchor="middle" stroke="#000" stroke-width="0.4">Power/kW</text>
<text id="l1" transform="translate(377.2 75.5) scale(1.136 1)" font-size="53" text-anchor="start">Heat storage</text>
<text id="l2" transform="translate(858.6 75.5) scale(1.136 1)" font-size="53" text-anchor="start">Heat load</text>
<text id="l3" transform="translate(1270.8 75.5) scale(1.136 1)" font-size="53" text-anchor="start">Heat release</text>
<text id="l4" transform="translate(1746.2 75.5) scale(1.136 1)" font-size="53" text-anchor="start">EB</text>
<text id="l5" transform="translate(2003.4 75.5) scale(1.136 1)" font-size="53" text-anchor="start">MT</text>
</g>
</svg>
</body>
</html>
